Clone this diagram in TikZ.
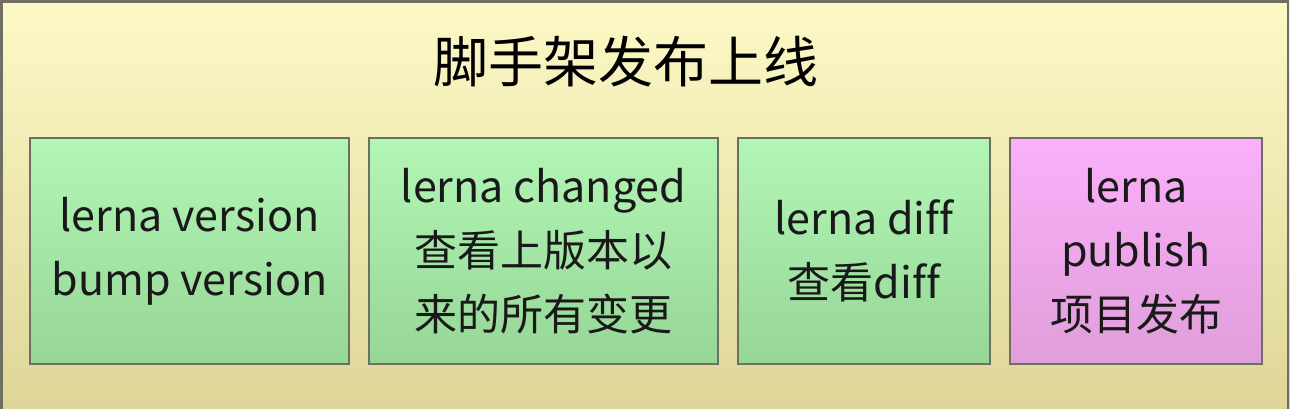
\documentclass[tikz,border=0pt]{standalone}
\usepackage{fontspec}
\setmainfont[Ligatures=NoCommon]{Noto Sans CJK SC}
\usepackage{xcolor}
\definecolor{slidetop}{RGB}{253, 249, 198}
\definecolor{slidebot}{RGB}{222, 214, 152}
\definecolor{greentop}{RGB}{178, 246, 182}
\definecolor{greenbot}{RGB}{150, 214, 150}
\definecolor{pinktop}{RGB}{251, 176, 250}
\definecolor{pinkbot}{RGB}{224, 158, 218}
\definecolor{framegray}{RGB}{110, 110, 100}

\begin{document}
\begin{tikzpicture}[x=1pt, y=-1pt,
    stepbox/.style={draw=framegray, line width=2.5pt, align=center, inner sep=0pt,
      font=\fontsize{43}{64}\selectfont, text=black!90},
    greenbox/.style={stepbox, top color=greentop, bottom color=greenbot},
    pinkbox/.style={stepbox, top color=pinktop, bottom color=pinkbot}]
    \useasboundingbox (0,0) rectangle (1290,408);
    \shade[top color=slidetop, bottom color=slidebot] (0,0) rectangle (1290,408);
    \draw[framegray, line width=2.5pt] (1.5,1.5) rectangle (1288,420);
    \node (title) at (626,62) {\fontsize{55}{55}\selectfont 脚手架发布上线};
    \node[greenbox, minimum width=319pt, minimum height=226pt] (version) at (189.5,251) {lerna version\\bump version};
    \node[greenbox, minimum width=349pt, minimum height=226pt] (changed) at (543.5,251) {lerna changed\\查看上版本以\\来的所有变更};
    \node[greenbox, minimum width=252pt, minimum height=226pt] (diff) at (864,251) {lerna diff\\查看diff};
    \node[pinkbox, minimum width=252pt, minimum height=226pt] (publish) at (1136,251) {lerna\\publish\\项目发布};
\end{tikzpicture}
\end{document}
